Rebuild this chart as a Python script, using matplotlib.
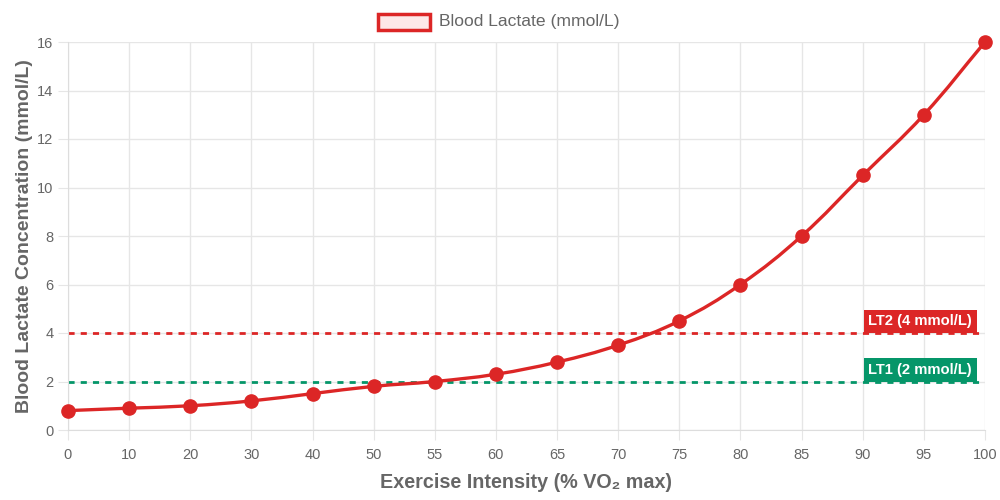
import numpy as np
import matplotlib
matplotlib.use("Agg")
import matplotlib.pyplot as plt
from matplotlib.path import Path
from matplotlib.patches import PathPatch, Rectangle

plt.rcParams['font.family'] = ['Liberation Sans', 'DejaVu Sans']

# data
intensity_labels = ["0", "10", "20", "30", "40", "50", "55", "60", "65",
                    "70", "75", "80", "85", "90", "95", "100"]
lactate = [0.8, 0.9, 1.0, 1.2, 1.5, 1.8, 2.0, 2.3, 2.8,
           3.5, 4.5, 6.0, 8.0, 10.5, 13.0, 16.0]
thresholds = [4.0, 2.0]
threshold_labels = ["LT2 (4 mmol/L)", "LT1 (2 mmol/L)"]
threshold_colors = ["#dc2626", "#059669"]

RED = "#dc2626"
GRID = "#e6e6e6"
TXT = "#666666"


def spline_path(xs, ys, sx, sy, tension=0.4):
    # chart.js style bezier through the points (distances in pixel space)
    n = len(xs)
    px = np.array(xs, float) * sx
    py = np.array(ys, float) * sy
    cps = []
    for i in range(n):
        pi = max(i - 1, 0)
        ni = min(i + 1, n - 1)
        d01 = np.hypot(px[i] - px[pi], py[i] - py[pi])
        d12 = np.hypot(px[ni] - px[i], py[ni] - py[i])
        tot = d01 + d12
        s01 = d01 / tot if tot else 0
        s12 = d12 / tot if tot else 0
        fa = tension * s01
        fb = tension * s12
        cp_prev = (px[i] - fa * (px[ni] - px[pi]), py[i] - fa * (py[ni] - py[pi]))
        cp_next = (px[i] + fb * (px[ni] - px[pi]), py[i] + fb * (py[ni] - py[pi]))
        cps.append((cp_prev, cp_next))
    verts = [(px[0] / sx, py[0] / sy)]
    codes = [Path.MOVETO]
    for i in range(n - 1):
        c1 = cps[i][1]
        c2 = cps[i + 1][0]
        verts += [(c1[0] / sx, c1[1] / sy), (c2[0] / sx, c2[1] / sy), (px[i + 1] / sx, py[i + 1] / sy)]
        codes += [Path.CURVE4] * 3
    return Path(verts, codes)


fig = plt.figure(figsize=(10, 5), dpi=100)
ax = fig.add_axes([0.068, 0.14, 0.917, 0.776])

xpos = np.arange(len(intensity_labels))
ax.set_xlim(0, len(intensity_labels) - 1)
ax.set_ylim(0, 16)

# threshold lines
for val, col in zip(thresholds, threshold_colors):
    ax.axhline(val, color=col, lw=2, ls=(0, (2.2, 2.2)), zorder=2)

# smooth line + points
sx = 917 / 15.0
sy = 388 / 16.0
path = spline_path(xpos, lactate, sx, sy)
ax.add_patch(PathPatch(path, fill=False, edgecolor=RED, lw=2.4, zorder=3,
                       capstyle='round', joinstyle='round', clip_on=False))
ax.plot(xpos, lactate, ls='none', marker='o', ms=9.5, color=RED, zorder=4,
        clip_on=False)

# threshold labels
for val, lab, col in zip(thresholds, threshold_labels, threshold_colors):
    ax.annotate(lab, xy=(1, val), xycoords=('axes fraction', 'data'),
                xytext=(-13, 4.5), textcoords='offset pixels',
                ha='right', va='bottom', color='white', fontsize=10.6,
                fontweight='bold', zorder=6,
                bbox=dict(boxstyle='square,pad=0.32', fc=col, ec='none'))

# axes style
ax.set_xticks(xpos)
ax.set_xticklabels(intensity_labels)
ax.set_yticks(np.arange(0, 17, 2))
ax.grid(True, color=GRID, lw=1, zorder=0)
ax.set_axisbelow(True)
for sp in ax.spines.values():
    sp.set_visible(False)
ax.spines['left'].set_visible(True)
ax.spines['left'].set_color("#dddddd")
ax.spines['bottom'].set_visible(True)
ax.spines['bottom'].set_color("#dddddd")
ax.tick_params(axis='both', colors=GRID, length=7, labelcolor=TXT, labelsize=10.5)
ax.tick_params(axis='x', pad=6)
ax.tick_params(axis='y', pad=3.5)

ax.set_xlabel("Exercise Intensity (% VO₂ max)", fontsize=14.2, fontweight='bold',
              color=TXT, labelpad=8)
ax.set_ylabel("Blood Lactate Concentration (mmol/L)", fontsize=14, fontweight='bold',
              color=TXT, labelpad=3)

# legend
fig.patches.append(Rectangle((0.378, 0.94), 0.052, 0.032, transform=fig.transFigure,
                             fc="#fde8e8", ec=RED, lw=2.5))
fig.text(0.439, 0.957, "Blood Lactate (mmol/L)", fontsize=12.6, color=TXT,
         ha='left', va='center')

fig.savefig("out.png", dpi=100)
